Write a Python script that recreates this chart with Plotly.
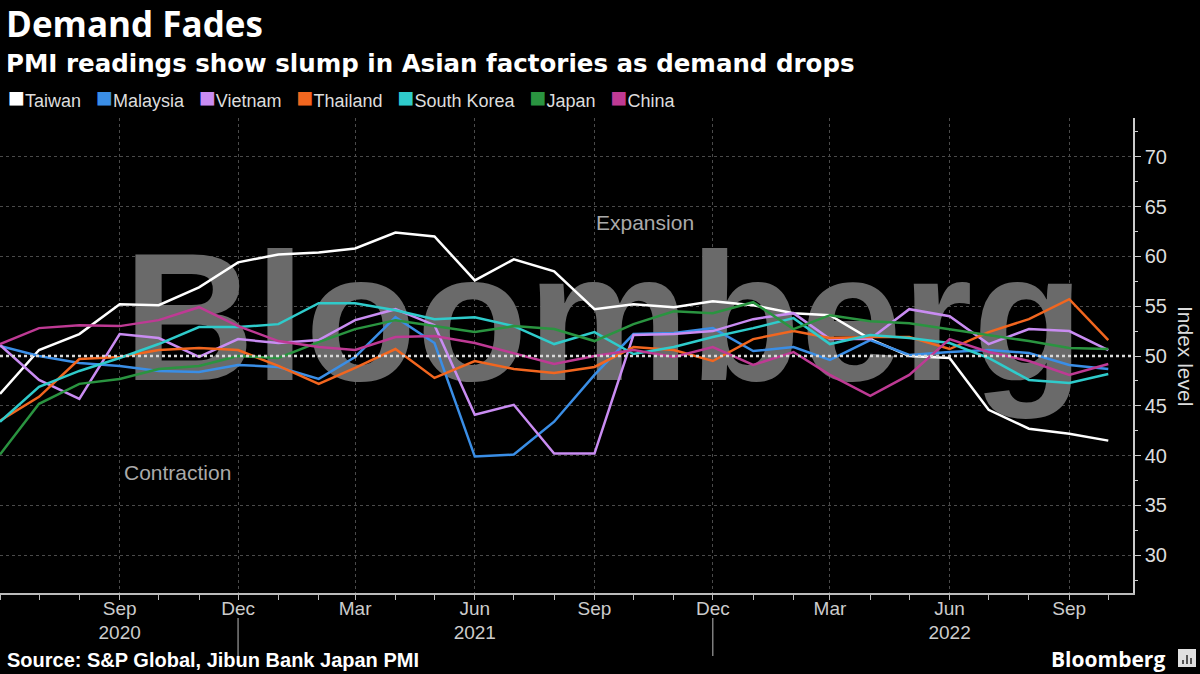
import plotly.graph_objects as go

months = [
    "2020-06-01", "2020-07-01", "2020-08-01", "2020-09-01", "2020-10-01", "2020-11-01", "2020-12-01",
    "2021-01-01", "2021-02-01", "2021-03-01", "2021-04-01", "2021-05-01", "2021-06-01",
    "2021-07-01", "2021-08-01", "2021-09-01", "2021-10-01", "2021-11-01", "2021-12-01",
    "2022-01-01", "2022-02-01", "2022-03-01", "2022-04-01", "2022-05-01", "2022-06-01",
    "2022-07-01", "2022-08-01", "2022-09-01", "2022-10-01",
]

taiwan = [46.2, 50.6, 52.2, 55.2, 55.1, 56.9, 59.4, 60.2, 60.4, 60.8, 62.4, 62.0, 57.6, 59.7, 58.5,
          54.7, 55.2, 54.9, 55.5, 55.1, 54.3, 54.1, 51.7, 50.0, 49.8, 44.6, 42.7, 42.2, 41.5]
malaysia = [51.0, 50.0, 49.3, 49.0, 48.5, 48.4, 49.1, 48.9, 47.7, 49.9, 53.9, 51.3, 39.9, 40.1, 43.4,
            48.1, 52.2, 52.3, 52.8, 50.5, 50.9, 49.6, 51.6, 50.1, 50.4, 50.6, 50.3, 49.1, 48.7]
vietnam = [51.1, 47.6, 45.7, 52.2, 51.8, 49.9, 51.7, 51.3, 51.6, 53.6, 54.7, 53.1, 44.1, 45.1, 40.2,
           40.2, 52.1, 52.2, 52.5, 53.7, 54.3, 51.7, 51.7, 54.7, 54.0, 51.2, 52.7, 52.5, 50.6]
thailand = [43.5, 45.9, 49.7, 49.9, 50.6, 50.8, 50.6, 49.0, 47.2, 48.8, 50.7, 47.8, 49.5, 48.7, 48.3,
            48.9, 50.9, 50.6, 49.5, 51.7, 52.5, 51.8, 51.9, 51.9, 50.7, 52.4, 53.7, 55.7, 51.6]
south_korea = [43.4, 46.9, 48.5, 49.8, 51.2, 52.9, 52.9, 53.2, 55.3, 55.3, 54.6, 53.7, 53.9, 53.0, 51.2,
               52.4, 50.2, 50.9, 51.9, 52.8, 53.8, 51.2, 52.1, 51.8, 51.3, 49.8, 47.6, 47.3, 48.2]
japan = [40.1, 45.2, 47.2, 47.7, 48.7, 49.0, 50.0, 49.8, 51.4, 52.7, 53.6, 53.0, 52.4, 53.0, 52.7,
         51.5, 53.2, 54.5, 54.3, 55.4, 52.7, 54.1, 53.5, 53.3, 52.7, 52.1, 51.5, 50.8, 50.7]
china = [51.2, 52.8, 53.1, 53.0, 53.6, 54.9, 53.0, 51.5, 50.9, 50.6, 51.9, 52.0, 51.3, 50.3, 49.2,
         50.0, 50.6, 49.9, 50.9, 49.1, 50.4, 48.1, 46.0, 48.1, 51.7, 50.4, 49.5, 48.1, 49.2]

series_names = ["Taiwan", "Malaysia", "Vietnam", "Thailand", "South Korea", "Japan", "China"]
series_values = [taiwan, malaysia, vietnam, thailand, south_korea, japan, china]
series_colors = ["#ffffff", "#3a8ee6", "#c98cf2", "#f2661f", "#2fcbcb", "#2a9440", "#be3a94"]

tick_dates = ["2020-09-01", "2020-12-01", "2021-03-01", "2021-06-01", "2021-09-01",
              "2021-12-01", "2022-03-01", "2022-06-01", "2022-09-01"]
tick_text = ["Sep<br>2020", "Dec", "Mar", "Jun<br>2021", "Sep", "Dec", "Mar", "Jun<br>2022", "Sep"]
year_breaks = ["2020-12-01", "2021-12-01"]
y_ticks = [30, 35, 40, 45, 50, 55, 60, 65, 70]

SANS = "Liberation Sans, Arial, sans-serif"
W, H = 1200, 674
L, R, T, B = 0, 67, 118, 81
PW, PH = W - L - R, H - T - B


def px(x):
    return (x - L) / PW


def py(y):
    return (H - B - y) / PH


fig = go.Figure()

# watermark (behind the lines)
fig.add_trace(go.Scatter(
    x=["2021-09-08"], y=[52.2], mode="text", text=["Bloomberg"],
    textposition="middle center",
    textfont=dict(size=182, color="#6a6a6a", family="Liberation Sans", weight="bold"),
    hoverinfo="skip", showlegend=False,
))

for name, vals, col in zip(series_names, series_values, series_colors):
    fig.add_trace(go.Scatter(
        x=months, y=vals, mode="lines", name=name,
        line=dict(color=col, width=2.5), showlegend=False,
    ))

annotations = []
annotations.append(dict(x=px(4), y=py(24), xref="paper", yref="paper", xanchor="left", yanchor="middle",
                        text="<b>Demand Fades</b>", showarrow=False,
                        font=dict(family="Open Sans", size=35, color="#ffffff")))
annotations.append(dict(x=px(4), y=py(63), xref="paper", yref="paper", xanchor="left", yanchor="middle",
                        text="<b>PMI readings show slump in Asian factories as demand drops</b>", showarrow=False,
                        font=dict(family="DejaVu Sans", size=24.5, color="#ffffff")))
legend_text = "&nbsp;&nbsp;&nbsp;".join(
    f'<span style="color:{c};font-size:28px">■</span>{n}' for n, c in zip(series_names, series_colors))
annotations.append(dict(x=px(6), y=py(97), xref="paper", yref="paper", xanchor="left", yanchor="middle",
                        text=legend_text, showarrow=False,
                        font=dict(family=SANS, size=18, color="#dddddd")))
annotations.append(dict(x=px(645), y=py(222), xref="paper", yref="paper", xanchor="center", yanchor="middle",
                        text="Expansion", showarrow=False,
                        font=dict(family=SANS, size=21, color="#aaaaaa")))
annotations.append(dict(x=px(177), y=py(472), xref="paper", yref="paper", xanchor="center", yanchor="middle",
                        text="Contraction", showarrow=False,
                        font=dict(family=SANS, size=21, color="#aaaaaa")))
annotations.append(dict(x=px(1186), y=py(356), xref="paper", yref="paper", xanchor="center", yanchor="middle",
                        text="Index level", textangle=90, showarrow=False,
                        font=dict(family=SANS, size=21, color="#dddddd")))
annotations.append(dict(x=px(5), y=py(660), xref="paper", yref="paper", xanchor="left", yanchor="middle",
                        text="<b>Source: S&P Global, Jibun Bank Japan PMI</b>", showarrow=False,
                        font=dict(family=SANS, size=20, color="#ffffff")))
annotations.append(dict(x=px(1167), y=py(659), xref="paper", yref="paper", xanchor="right", yanchor="middle",
                        text="<b>Bloomberg</b>", showarrow=False,
                        font=dict(family="Open Sans", size=21, color="#ffffff")))

shapes = [
    dict(type="line", xref="paper", yref="y", x0=0, x1=1, y0=50, y1=50, layer="above",
         line=dict(color="#d8d8d8", width=2.5, dash="dot")),
]
for d in year_breaks:
    shapes.append(dict(type="line", xref="x", yref="paper", x0=d, x1=d, y0=py(618), y1=py(656),
                       line=dict(color="#bbbbbb", width=1)))
# small logo icon
shapes.append(dict(type="rect", xref="paper", yref="paper", x0=px(1178), x1=px(1196), y0=py(667), y1=py(649),
                   fillcolor="#e0e0e0", line=dict(width=0)))
for bx, top in [(1182, 660), (1186, 655), (1190, 658)]:
    shapes.append(dict(type="rect", xref="paper", yref="paper", x0=px(bx), x1=px(bx + 2), y0=py(664), y1=py(top),
                       fillcolor="#555555", line=dict(width=0)))

fig.update_layout(
    width=W, height=H,
    margin=dict(l=L, r=R, t=T, b=B),
    paper_bgcolor="#000000", plot_bgcolor="#000000",
    showlegend=False,
    annotations=annotations,
    shapes=shapes,
    xaxis=dict(
        type="date", range=["2020-06-01", "2022-10-20"],
        tickvals=tick_dates, ticktext=tick_text,
        tickfont=dict(family=SANS, size=19, color="#cccccc"),
        ticklabelstandoff=-8,
        showgrid=True, gridcolor="#4a4a4a", griddash="dot", gridwidth=1,
        showline=True, linecolor="#bbbbbb", linewidth=1.5,
        ticks="outside", ticklen=5, tickcolor="#bbbbbb",
        minor=dict(dtick="M1", tick0="2020-06-01", ticks="outside", ticklen=5, tickcolor="#bbbbbb", showgrid=False),
        zeroline=False, fixedrange=True,
    ),
    yaxis=dict(
        side="right", range=[26.2, 73.9],
        tickvals=y_ticks,
        tickfont=dict(family=SANS, size=20, color="#dddddd"),
        showgrid=True, gridcolor="#4a4a4a", griddash="dot", gridwidth=1,
        showline=True, linecolor="#cccccc", linewidth=1.5,
        ticks="outside", ticklen=6, tickcolor="#cccccc",
        minor=dict(dtick=2.5, tick0=27.5, ticks="outside", ticklen=3, tickcolor="#cccccc", showgrid=False),
        zeroline=False, fixedrange=True,
    ),
)

fig.write_html("out.html")
